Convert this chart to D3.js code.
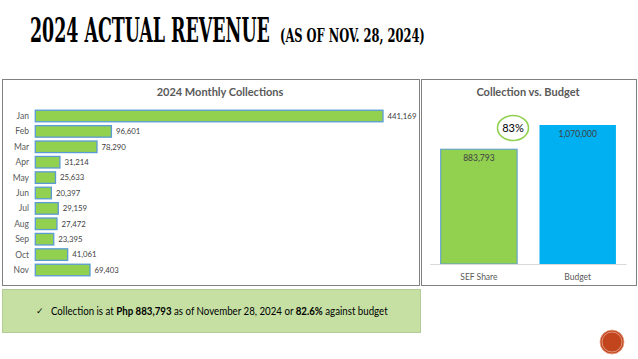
<!DOCTYPE html>
<html><head><meta charset="utf-8">
<script src="https://cdn.jsdelivr.net/npm/d3@7"></script>
<style>body{margin:0;background:#fff}svg{display:block}</style>
</head><body>
<script>
const months = ["Jan","Feb","Mar","Apr","May","Jun","Jul","Aug","Sep","Oct","Nov"];
const monthly = [441169,96601,78290,31214,25633,20397,29159,27472,23395,41061,69403];
const compCats = ["SEF Share","Budget"];
const compVals = [883793,1070000];

const W=638,H=359;
const svg=d3.select("body").append("svg").attr("width",W).attr("height",H);
const F="Lato, 'Open Sans', sans-serif";
const fmt=d3.format(",");

// fit a text horizontally to a target width via transform scale
function fitText(sel, x0, target){
  const len=sel.node().getComputedTextLength();
  const k=target/len;
  sel.attr("transform",`translate(${x0},0) scale(${k},1) translate(${-x0},0)`);
}

// Title
const t1=svg.append("text").attr("x",30).attr("y",42)
 .attr("font-family","'DejaVu Serif Condensed','DejaVu Serif',serif").attr("font-weight","bold")
 .attr("font-size",33).text("2024 ACTUAL REVENUE");
fitText(t1,30,240);
const t2=svg.append("text").attr("x",280).attr("y",42)
 .attr("font-family","'DejaVu Serif Condensed','DejaVu Serif',serif").attr("font-weight","bold")
 .attr("font-size",18).text("(AS OF NOV. 28, 2024)");
fitText(t2,280,145);

// Frames
svg.append("rect").attr("x",2.5).attr("y",79.5).attr("width",417).attr("height",206)
 .attr("fill","#fff").attr("stroke","#808080");
svg.append("rect").attr("x",421.5).attr("y",79.5).attr("width",215).attr("height",206)
 .attr("fill","#fff").attr("stroke","#808080");

// Left chart
svg.append("text").attr("x",220).attr("y",96).attr("text-anchor","middle")
 .attr("font-family",F).attr("font-weight","bold").attr("font-size",11).attr("fill","#595959")
 .text("2024 Monthly Collections");
const x=d3.scaleLinear().domain([0,d3.max(monthly)]).range([35.3,383]);
const y=d3.scaleBand().domain(months).range([108.3,277.7]).paddingInner(0.25).paddingOuter(0.125);
const gL=svg.append("g");
gL.selectAll("rect.b").data(months).join("rect")
 .attr("x",x(0)).attr("y",d=>y(d)).attr("width",(d,i)=>x(monthly[i])-x(0)).attr("height",y.bandwidth())
 .attr("fill","#92D050").attr("stroke","#5B9BD5").attr("stroke-width",1.3);
gL.selectAll("text.m").data(months).join("text")
 .attr("x",29).attr("y",d=>y(d)+y.bandwidth()/2).attr("dy","0.35em").attr("text-anchor","end")
 .attr("font-family",F).attr("font-size",8.5).attr("fill","#595959").text(d=>d);
gL.selectAll("text.v").data(monthly).join("text")
 .attr("x",d=>x(d)+4.5).attr("y",(d,i)=>y(months[i])+y.bandwidth()/2).attr("dy","0.35em")
 .attr("font-family",F).attr("font-size",7.8).attr("fill","#404040").text(d=>fmt(d));

// Right chart
svg.append("text").attr("x",528).attr("y",96).attr("text-anchor","middle")
 .attr("font-family",F).attr("font-weight","bold").attr("font-size",11).attr("fill","#595959")
 .text("Collection vs. Budget");
const x2=d3.scaleBand().domain(compCats).range([430,626.6]).paddingInner(0.226).paddingOuter(0.108);
const y2=d3.scaleLinear().domain([0,compVals[1]]).range([264,125]);
const colors=["#92D050","#00B0F0"];
const gR=svg.append("g");
gR.selectAll("rect").data(compCats).join("rect")
 .attr("x",d=>x2(d)).attr("y",(d,i)=>y2(compVals[i])).attr("width",x2.bandwidth())
 .attr("height",(d,i)=>y2(0)-y2(compVals[i]))
 .attr("fill",(d,i)=>colors[i]).attr("stroke",(d,i)=>i===0?"#5B9BD5":"none").attr("stroke-width",1);
gR.append("line").attr("x1",430).attr("x2",626.6).attr("y1",264.5).attr("y2",264.5).attr("stroke","#d9d9d9");
gR.selectAll("text.v").data(compVals).join("text")
 .attr("x",(d,i)=>x2(compCats[i])+x2.bandwidth()/2).attr("y",d=>y2(d)+9).attr("dy","0.35em")
 .attr("text-anchor","middle").attr("font-family",F).attr("font-size",8.5).attr("fill","#404040")
 .text(d=>fmt(d));
gR.selectAll("text.c").data(compCats).join("text")
 .attr("x",d=>x2(d)+x2.bandwidth()/2).attr("y",277).attr("dy","0.35em").attr("text-anchor","middle")
 .attr("font-family",F).attr("font-size",8.5).attr("fill","#595959").text(d=>d);
// percentage bubble
const pct=Math.round(compVals[0]/compVals[1]*100);
gR.append("ellipse").attr("cx",513).attr("cy",128).attr("rx",15.5).attr("ry",12.5)
 .attr("fill","#fff").attr("stroke","#92D050").attr("stroke-width",1.6);
gR.append("text").attr("x",513).attr("y",128).attr("dy","0.36em").attr("text-anchor","middle")
 .attr("font-family",F).attr("font-size",11).attr("fill","#000").text(pct+"%");

// Note box
svg.append("rect").attr("x",2.5).attr("y",289.5).attr("width",418).attr("height",43)
 .attr("fill","#C6E0A4").attr("stroke","#B3CC96");
svg.append("text").attr("x",36).attr("y",314).attr("font-family","'DejaVu Sans',sans-serif")
 .attr("font-size",9).attr("fill","#000").text("✓");
const note=svg.append("text").attr("x",51).attr("y",315).attr("font-family",F).attr("font-size",11)
 .attr("fill","#000");
note.append("tspan").text("Collection is at ");
note.append("tspan").attr("font-weight","bold").text("Php "+fmt(compVals[0]));
note.append("tspan").text(" as of November 28, 2024 or ");
note.append("tspan").attr("font-weight","bold").text((compVals[0]/compVals[1]*100).toFixed(1)+"%");
note.append("tspan").text(" against budget");
fitText(note,51,337);

// Slide badge
svg.append("circle").attr("cx",612).attr("cy",342).attr("r",12).attr("fill","#C2451D").attr("stroke","#E8A88C").attr("stroke-width",0.8);
svg.append("circle").attr("cx",612).attr("cy",342).attr("r",10).attr("fill","none").attr("stroke","#F5CDBB").attr("stroke-width",0.6);
</script>
</body></html>
